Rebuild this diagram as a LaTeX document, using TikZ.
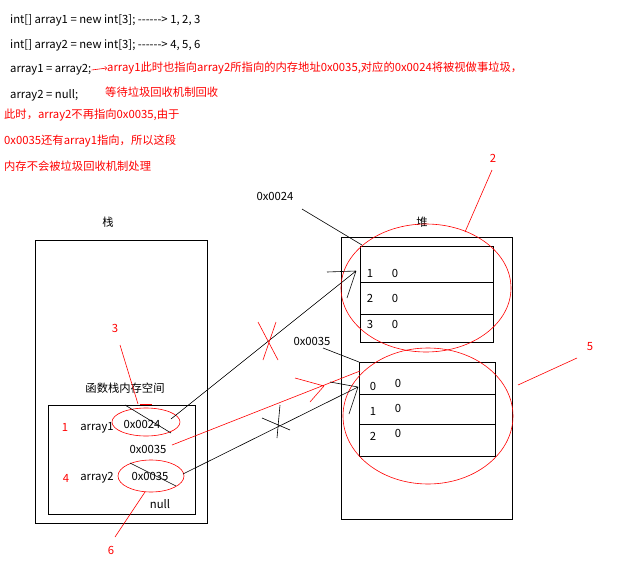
\documentclass[tikz,border=0pt]{standalone}
\usepackage{fontspec}
\setmainfont{Noto Sans CJK SC}
\newcommand{\dsh}{-{}-{}-{}-{}-{}-{}>}
\begin{document}
\begin{tikzpicture}[x=1pt,y=-1pt,
  t/.style={font=\fontsize{11.3}{13}\selectfont,inner sep=0pt,anchor=west},
  r/.style={t,text=red},
  box/.style={draw,line width=0.8pt},
  rl/.style={draw=red,line width=0.6pt},
  bl/.style={draw=black,line width=0.6pt}]
\useasboundingbox (0,0) rectangle (641,573);
% top text
\node[t] (l1) at (10,20) {int[] array1 = new int[3]; \dsh{} 1, 2, 3};
\node[t] (l2) at (10,45) {int[] array2 = new int[3]; \dsh{} 4, 5, 6};
\node[t] (l3) at (10,70) {array1 = array2;};
\node[t] (l4) at (10,95) {array2 = null;};
\node[r] (c1) at (107,68) {array1此时也指向array2所指向的内存地址0x0035,对应的0x0024将被视做事垃圾，};
\draw[rl,->] (l3.east) -- (c1.west);
\node[r] (c2) at (105,92) {等待垃圾回收机制回收};
\node[r] (c3) at (4,115) {此时，array2不再指向0x0035,由于};
\node[r] (c4) at (4,141) {0x0035还有array1指向，所以这段};
\node[r] (c5) at (4,166) {内存不会被垃圾回收机制处理};
% stack
\node[box,minimum width=172,minimum height=283,anchor=north west,inner sep=0] (stk) at (35,240) {};
\node[t,anchor=center] (stkl) at (108,222) {栈};
\node[box,minimum width=147,minimum height=109,anchor=north west,inner sep=0] (frm) at (48,405) {};
\node[t,anchor=center] (frml) at (125,388) {函数栈内存空间};
\node[r,anchor=center] (n1) at (65,427) {1};
\node[t,anchor=center] (a1) at (97,428) {array1};
\node[t,anchor=center] (v1) at (142,424) {0x0024};
\draw[rl] (146,422) ellipse (34 and 14);
\node[t,anchor=center] (v2) at (148,449) {0x0035};
\node[r,anchor=center] (n4) at (66,478) {4};
\node[t,anchor=center] (a2) at (97,478) {array2};
\node[t,anchor=center] (v3) at (150,476) {0x0035};
\draw[rl] (151,476) ellipse (33 and 16);
\node[t,anchor=center] (nul) at (160,504) {null};
\draw[bl] (125,405) -- (171,433);
\draw[bl] (130,463) -- (176,486);
\node[r,anchor=center] (n3) at (115,328) {3};
\draw[rl] (120,345) -- (138,404);
\draw[red,line width=1pt] (140,404) -- (152,404);
\node[r,anchor=center] (n6) at (111,550) {6};
\draw[rl] (115,537) -- (145,492);
% heap
\node[box,minimum width=171,minimum height=282,anchor=north west,inner sep=0] (hp) at (341,237) {};
\node[t,anchor=center] (hpl) at (422,222) {堆};
\node[box,minimum width=133,minimum height=96,anchor=north west,inner sep=0] (h1) at (360,246) {};
\draw[box] (360,282) -- (493,282) (360,314) -- (493,314);
\foreach \n/\y in {1/273,2/298,3/324}{
 \node[t,anchor=center] at (370,\y) {\n};
 \node[t,anchor=center] at (395,\y) {0};}
\draw[rl] (426,288) ellipse (85 and 64);
\node[r,anchor=center] (n2) at (493,158) {2};
\draw[rl] (492,170) -- (465,232);
\node[t,anchor=center] (lab1) at (275,196) {0x0024};
\draw[bl] (302,209) -- (362,245);
\node[box,minimum width=136,minimum height=94,anchor=north west,inner sep=0] (h2) at (359,362) {};
\draw[box] (359,394) -- (495,394) (359,424) -- (495,424);
\foreach \n/\y/\z in {0/386/383,1/411/408,2/436/433}{
 \node[t,anchor=center] at (373,\y) {\n};
 \node[t,anchor=center] at (398,\z) {0};}
\draw[rl] (428,416) ellipse (85 and 68);
\node[r,anchor=center] (n5) at (590,347) {5};
\draw[rl] (577,358) -- (518,385);
\node[t,anchor=center] (lab2) at (312,341) {0x0035};
\draw[bl] (323,348) -- (359,362);
% arrows
\coordinate (p1) at (356,271);
\draw[bl] (171,419) -- (p1) (327,272) -- (p1) (347,298) -- (p1);
\draw[rl] (258,322) -- (278,360) (276,322) -- (263,360);
\coordinate (p2) at (360,371);
\draw[rl] (172,445) -- (p2) (295,378) -- (324,386) (310,402) -- (324,386);
\coordinate (p3) at (358,387);
\draw[bl] (183,474) -- (p3) (330,382) -- (p3) (349,414) -- (p3);
\draw[bl] (280,405) -- (277,438) (262,418) -- (290,430);
\end{tikzpicture}
\end{document}
